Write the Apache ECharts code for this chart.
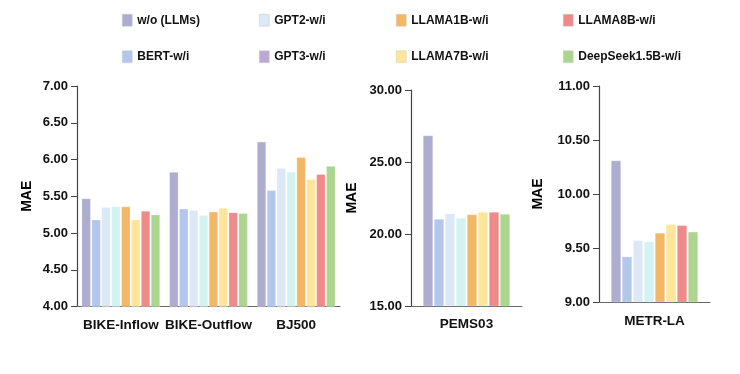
<!DOCTYPE html>
<html>
<head>
<meta charset="utf-8">
<script src="https://cdn.jsdelivr.net/npm/echarts@6/dist/echarts.min.js"></script>
<style>html,body{margin:0;padding:0;background:#fff;}#c{width:740px;height:374px;}</style>
</head>
<body>
<div id="c"></div>
<script>
// Data
const models = ['w/o (LLMs)', 'BERT-w/i', 'GPT2-w/i', 'GPT3-w/i', 'LLAMA1B-w/i', 'LLAMA7B-w/i', 'LLAMA8B-w/i', 'DeepSeek1.5B-w/i'];
const datasets1 = ['BIKE-Inflow', 'BIKE-Outflow', 'BJ500'];
const datasets2 = ['PEMS03'];
const datasets3 = ['METR-LA'];
// values per model: [BIKE-Inflow, BIKE-Outflow, BJ500, PEMS03, METR-LA]
const woLLM     = [5.47, 5.83, 6.24, 26.84, 10.31];
const bert      = [5.18, 5.33, 5.58, 21.04, 9.42];
const gpt2      = [5.35, 5.31, 5.88, 21.43, 9.57];
const gpt3      = [5.36, 5.24, 5.83, 21.11, 9.56];
const llama1b   = [5.36, 5.29, 6.03, 21.36, 9.64];
const llama7b   = [5.18, 5.34, 5.73, 21.52, 9.72];
const llama8b   = [5.30, 5.28, 5.80, 21.52, 9.71];
const deepseek  = [5.25, 5.27, 5.91, 21.39, 9.65];
const allValues = [woLLM, bert, gpt2, gpt3, llama1b, llama7b, llama8b, deepseek];

const barColors = ['#aeadd0', '#b3c6ec', '#dce8f6', '#d2f3f0', '#f2b865', '#fde59a', '#ef8a8a', '#acd690'];
const legendColors = ['#aeadd0', '#b3c6ec', '#dce8f6', '#b9a9d3', '#f2b865', '#fde59a', '#ef8a8a', '#acd690'];

const FONT = 'Liberation Sans, Arial, sans-serif';
const chart = echarts.init(document.getElementById('c'), null, {renderer: 'canvas'});

function yAxis(gi, min, max, interval, nameGap) {
  return {
    type: 'value', gridIndex: gi, min: min, max: max, interval: interval,
    name: 'MAE', nameLocation: 'middle', nameGap: nameGap, nameRotate: 90,
    nameTextStyle: {fontFamily: FONT, fontWeight: 'bold', fontSize: 14, color: '#000'},
    axisLine: {show: true, lineStyle: {color: '#444', width: 1.2}},
    axisTick: {show: true, length: 6, lineStyle: {color: '#444'}},
    axisLabel: {fontFamily: FONT, fontWeight: 'bold', fontSize: 13, color: '#111', margin: 9,
      formatter: v => v.toFixed(2)},
    splitLine: {show: false}
  };
}
function xAxis(gi, data, margin) {
  return {
    type: 'category', gridIndex: gi, data: data,
    axisLine: {show: true, lineStyle: {color: '#666', width: 1.2}},
    axisTick: {show: false},
    axisLabel: {interval: 0, fontFamily: FONT, fontWeight: 'bold', fontSize: 13.5, color: '#111', margin: margin}
  };
}

const series = [];
models.forEach((m, i) => {
  const vals = allValues[i];
  const common = {type: 'bar', name: m, itemStyle: {color: barColors[i], borderColor: 'rgba(255,255,255,0.5)', borderWidth: 0.5}, barGap: '10%'};
  series.push(Object.assign({}, common, {xAxisIndex: 0, yAxisIndex: 0, data: vals.slice(0, 3), barWidth: 9}));
  series.push(Object.assign({}, common, {xAxisIndex: 1, yAxisIndex: 1, data: [vals[3]], barWidth: 10}));
  series.push(Object.assign({}, common, {xAxisIndex: 2, yAxisIndex: 2, data: [vals[4]], barWidth: 10}));
});

function legendCol(idx, left) {
  return {
    orient: 'vertical', left: left, top: 9, itemGap: 24,
    itemWidth: 10, itemHeight: 12, icon: 'rect',
    textStyle: {fontFamily: FONT, fontWeight: 'bold', fontSize: 12, color: '#111'},
    data: idx.map(i => ({name: models[i], itemStyle: {color: legendColors[i], borderColor: '#ccc', borderWidth: 0.5}}))
  };
}

chart.setOption({
  animation: false,
  backgroundColor: '#fff',
  legend: [legendCol([0, 1], 117), legendCol([2, 3], 254), legendCol([4, 5], 391), legendCol([6, 7], 558)],
  grid: [
    {left: 77, top: 86, width: 263, height: 220.5},
    {left: 411, top: 90, width: 111, height: 216},
    {left: 599, top: 86, width: 111, height: 216}
  ],
  xAxis: [xAxis(0, datasets1, 12), xAxis(1, datasets2, 11), xAxis(2, datasets3, 12)],
  yAxis: [yAxis(0, 4, 7, 0.5, 43), yAxis(1, 15, 30, 5, 52), yAxis(2, 9, 11, 0.5, 54)],
  series: series
});
</script>
</body>
</html>
